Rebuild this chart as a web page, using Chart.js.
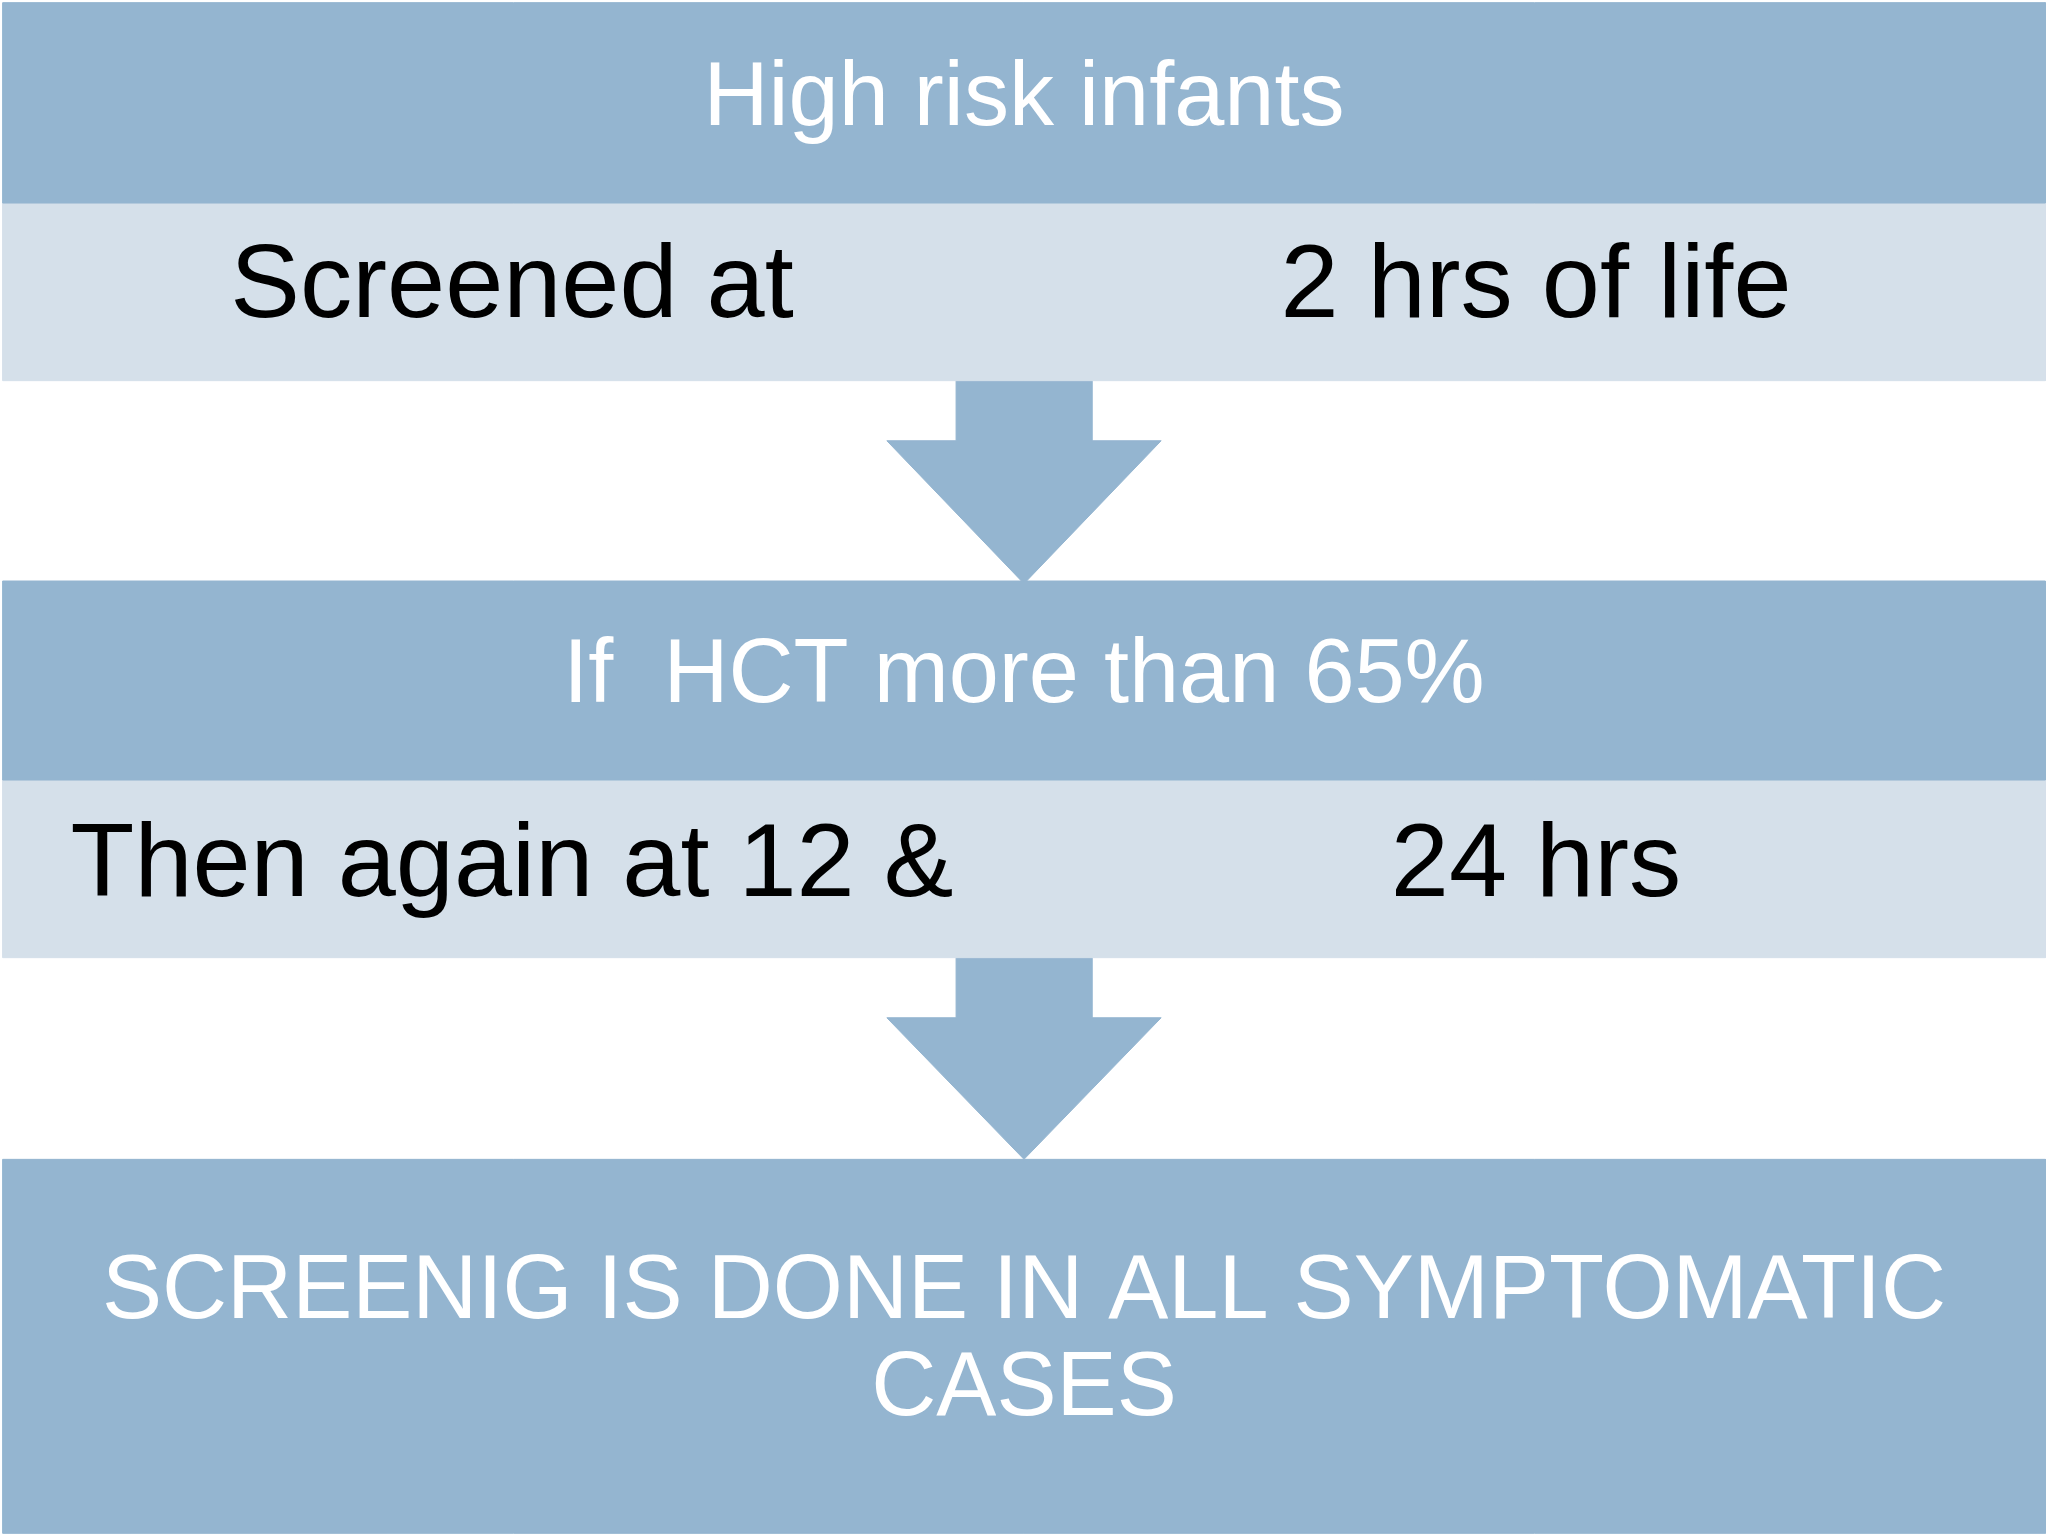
<!DOCTYPE html>
<html><head><meta charset="utf-8">
<script src="https://cdn.jsdelivr.net/npm/chart.js@4.4.0/dist/chart.umd.min.js"></script>
<style>html,body{margin:0;padding:0;background:#fff;}#wrap{width:2048px;height:1536px;}</style>
</head><body><div id="wrap"><canvas id="c"></canvas></div>
<script>
// Flowchart in reference units (width 1568, height 1150)
const boxTitles = ["High risk infants", "If  HCT more than 65%"];
const rowLeft = ["Screened at", "Then again at 12 &"];
const rowRight = ["2 hrs of life", "24 hrs"];
const finalLines = ["SCREENIG IS DONE IN ALL SYMPTOMATIC", "CASES"];
const boxTop = [2, 435, 868];
const boxBottom = [152, 584, 1148];
const rowTop = [152, 584];
const rowBottom = [285, 717];
const arrowTop = [285, 717];
const arrowHeadY = [330, 762];
const arrowTip = [437, 868];

const BLUE = '#94b5d0', LIGHT = '#d5e0ea';
function rect(x0, y0, x1, y1) { return [{x:x0,y:y0},{x:x1,y:y0},{x:x1,y:y1},{x:x0,y:y1},{x:x0,y:y0}]; }
function arrow(t, h, tip) {
  return [{x:732,y:t},{x:836,y:t},{x:836,y:h},{x:889,y:h},{x:784,y:tip},{x:679,y:h},{x:732,y:h},{x:732,y:t}];
}
const datasets = [];
function shape(pts, color) {
  datasets.push({data: pts, showLine: true, fill: 'shape', backgroundColor: color, borderColor: color,
    borderWidth: 1, pointRadius: 0, tension: 0});
}
for (let i = 0; i < 3; i++) shape(rect(2, boxTop[i], 1566, boxBottom[i]), BLUE);
for (let i = 0; i < 2; i++) {
  shape(rect(2, rowTop[i], 1566, rowBottom[i]), LIGHT);
  datasets.push({data:[{x:784,y:rowTop[i]+2},{x:784,y:rowBottom[i]-2}], showLine:true, borderColor:'#e3eaf2', borderWidth:3, pointRadius:0});
  shape(arrow(arrowTop[i], arrowHeadY[i], arrowTip[i]), BLUE);
}

const textPlugin = {
  id: 'texts',
  afterDatasetsDraw(chart) {
    const {ctx, scales:{x, y}} = chart;
    const k = chart.width / 1568;
    function t(s, px, py, size, color) {
      ctx.save();
      ctx.font = (size * k) + 'px "Liberation Sans", Arial, sans-serif';
      ctx.fillStyle = color; ctx.textAlign = 'center'; ctx.textBaseline = 'middle';
      ctx.fillText(s, x.getPixelForValue(px), y.getPixelForValue(py));
      ctx.restore();
    }
    t(boxTitles[0], 784, 75, 69, '#ffffff');
    t(boxTitles[1], 784, 507, 69, '#ffffff');
    t(rowLeft[0], 392, 216, 80, '#000000');
    t(rowRight[0], 1176, 216, 80, '#000000');
    t(rowLeft[1], 392, 649, 80, '#000000');
    t(rowRight[1], 1176, 649, 80, '#000000');
    t(finalLines[0], 784, 968, 69, '#ffffff');
    t(finalLines[1], 784, 1041, 69, '#ffffff');
  }
};

new Chart(document.getElementById('c'), {
  type: 'scatter',
  data: {datasets},
  options: {
    responsive: true, maintainAspectRatio: false, animation: false,
    layout: {padding: 0},
    plugins: {legend: {display: false}, tooltip: {enabled: false}},
    scales: {
      x: {type: 'linear', min: 0, max: 1568, display: false},
      y: {type: 'linear', min: 0, max: 1150, reverse: true, display: false}
    }
  },
  plugins: [textPlugin]
});
</script></body></html>
